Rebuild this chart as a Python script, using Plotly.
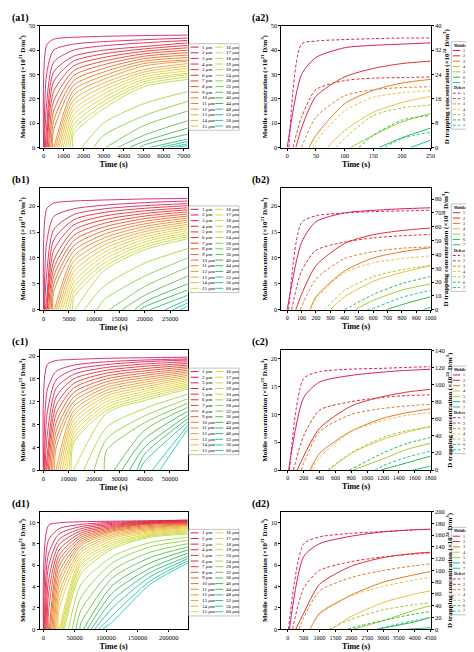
import plotly.graph_objects as go

W, H = 474, 652
FONT = "Liberation Serif"

# ---------------- data: left panels (mobile concentration for 30 depths) ----------------
depths = [1,2,3,4,5,6,7,8,9,10,11,12,13,14,15,16,17,18,19,20,24,28,32,36,40,44,48,52,56,60]
depth_labels = [f"{d} μm" for d in depths]

a1_grid = [150, 500, 1500, 3000, 5000, 7200]
a1_onset = [0,15,40,80,130,180,240,300,370,440,520,600,690,780,880,980,1090,1200,1320,1450,1900,2500,3100,3700,4300,4800,5300,5800,6200,6600]
a1_vals = [
 [42,44.5,45.3,45.7,46,46.2],[30,40,42.5,43.5,44.3,45],[18,35,40,41.8,43,44],[8,31,37.5,40,41.5,43],
 [2,27,35.5,38.5,40.5,42],[0,23,33.5,37,39.5,41],[0,19,31.5,35.5,38.5,40],[0,15,29.5,34,37.5,39],
 [0,11,27.5,32.5,36.5,38],[0,7,25.5,31,35.5,37],[0,4,23.5,29.5,34.5,36],[0,1.5,21.5,28,33.5,35.5],
 [0,0,19.5,26.5,32,34.5],[0,0,17.5,25,31,33.5],[0,0,15.5,23.5,30,32.5],[0,0,13.5,22,29,31.5],
 [0,0,11.5,20.5,28,30.5],[0,0,9.5,19,27,30],[0,0,7.5,17.5,26,29],[0,0,5.5,16,25,28],
 [0,0,1,10,18,23],[0,0,0,5,13,19],[0,0,0,2,9,15],[0,0,0,0.5,5,11],[0,0,0,0,2.5,8],
 [0,0,0,0,1,5.5],[0,0,0,0,0.3,3.5],[0,0,0,0,0,2.5],[0,0,0,0,0,1.5],[0,0,0,0,0,0.8]]

b1_grid = [600, 2000, 6000, 12000, 20000, 28500]
b1_onset = [0,60,160,320,520,720,950,1200,1500,1800,2150,2500,2900,3300,3750,4200,4700,5200,5700,6200,8000,10500,13000,15500,18000,19000,21000,24000,25500,27000]
b1_vals = [
 [19.5,20.6,21,21.2,21.4,21.5],[13,18,19.5,20.2,20.7,21],[7,15.5,18.4,19.5,20.1,20.5],[2,13.5,17.4,18.8,19.6,20.1],
 [0.3,11.5,16.4,18.1,19.1,19.7],[0,9.5,15.4,17.4,18.6,19.3],[0,8,14.4,16.7,18.1,18.9],[0,6.5,13.4,16,17.6,18.5],
 [0,5,12.4,15.3,17.1,18.1],[0,3.5,11.4,14.6,16.6,17.7],[0,2.2,10.4,13.9,16.1,17.3],[0,1.2,9.4,13.2,15.6,16.9],
 [0,0.3,8.4,12.5,15.1,16.5],[0,0,7.4,11.8,14.6,16.1],[0,0,6.4,11.1,14.1,15.7],[0,0,5.4,10.4,13.6,15.3],
 [0,0,4.4,9.7,13.1,14.9],[0,0,3.4,9,12.6,14.5],[0,0,2.4,8.3,12.1,14.1],[0,0,1.5,7.6,11.6,13.7],
 [0,0,0,4.6,9,11.8],[0,0,0,2,6.5,10],[0,0,0,0.5,4.5,8.2],[0,0,0,0,2.8,6.5],[0,0,0,0,1.5,5],
 [0,0,0,0,0.6,3.8],[0,0,0,0,0,2.8],[0,0,0,0,0,2],[0,0,0,0,0,1.3],[0,0,0,0,0,0.7]]

c1_grid = [1500, 5000, 12000, 25000, 40000, 57000]
c1_onset = [0,100,300,600,1000,1400,1900,2400,3000,3600,4300,5000,5800,6600,7500,8400,9300,10200,11000,12000,16000,20000,24000,28000,31000,34000,37000,38000,43000,46000]
c1_vals = [
 [18.5,19.2,19.4,19.6,19.7,19.8],[14,17.3,18.4,19,19.3,19.5],[10,15.8,17.6,18.5,19,19.3],[6,14.3,16.8,18,18.6,19],
 [2.5,12.8,16,17.5,18.2,18.7],[0.5,11.3,15.2,17,17.8,18.4],[0,9.8,14.4,16.5,17.4,18.1],[0,8.3,13.6,16,17,17.8],
 [0,6.8,12.8,15.5,16.6,17.5],[0,5.3,12,15,16.2,17.2],[0,3.8,11.2,14.5,15.8,16.9],[0,2.5,10.4,14,15.4,16.6],
 [0,1.2,9.6,13.5,15,16.3],[0,0,8.8,13,14.6,16],[0,0,8,12.5,14.2,15.7],[0,0,7.2,12,13.8,15.4],
 [0,0,6.4,11.5,13.4,15.1],[0,0,5.6,11,13,14.8],[0,0,4.8,10.5,12.6,14.5],[0,0,4,10,12.2,14.2],
 [0,0,1.5,7.5,10.8,13.3],[0,0,0,5.5,9.5,12.5],[0,0,0,3.5,8.3,11.7],[0,0,0,1.5,7,11],[0,0,0,0,5.5,10.3],
 [0,0,0,0,4,9.6],[0,0,0,0,2.8,9],[0,0,0,0,1.5,8.4],[0,0,0,0,0,7.8],[0,0,0,0,0,7.2]]

d1_grid = [8000, 25000, 60000, 110000, 170000, 230000]
d1_onset = [0,500,1500,2800,4300,6000,7800,9600,11500,13500,15500,17500,19500,21500,23500,25500,27500,29500,31500,33500,40000,46000,52000,58000,64000,70000,76000,82000,88000,94000]
d1_vals = [
 [9.7,9.95,10.05,10.1,10.15,10.2],[8.3,9.4,9.8,10,10.1,10.2],[7,8.9,9.6,9.9,10.05,10.15],[5.8,8.4,9.4,9.8,10,10.1],
 [4.5,7.9,9.2,9.7,9.95,10.05],[3.2,7.4,9,9.6,9.9,10],[1.5,6.9,8.8,9.5,9.85,9.95],[0,6.4,8.6,9.4,9.8,9.9],
 [0,5.9,8.4,9.3,9.7,9.85],[0,5.3,8.2,9.2,9.6,9.8],[0,4.7,8,9.1,9.5,9.75],[0,4.1,7.8,8.95,9.4,9.7],
 [0,3.4,7.5,8.8,9.3,9.6],[0,2.7,7.2,8.65,9.2,9.5],[0,1.8,6.9,8.5,9.1,9.4],[0,0,6.6,8.3,9,9.3],
 [0,0,6.3,8.1,8.9,9.2],[0,0,6,7.9,8.8,9.1],[0,0,5.6,7.7,8.7,9],[0,0,5.2,7.5,8.6,8.9],
 [0,0,4.2,6.8,8.1,8.6],[0,0,3,6.2,7.7,8.3],[0,0,1.8,5.5,7.2,8],[0,0,0.6,4.8,6.7,7.7],[0,0,0,4.1,6.2,7.4],
 [0,0,0,3.4,5.7,7.1],[0,0,0,2.7,5.3,6.8],[0,0,0,2,4.9,6.6],[0,0,0,1.3,4.5,6.4],[0,0,0,0.7,4.2,6.2]]

# ---------------- data: right panels (mobile solid, defect dashed; 1-7 μm) ----------------
r_labels = [f"{d} μm" for d in range(1, 8)]

a2_grid = [25, 50, 100, 150, 200, 250]
a2_m_onset = [0,15,38,70,110,160,215]
a2_m_vals = [[30,37,41,42,42.5,43],[8,21,29,32.5,34.5,35.5],[0,5,18,23.5,26.5,28],[0,0,7,14.5,18.5,21],
             [0,0,0,5,10.5,14],[0,0,0,0,4,8],[0,0,0,0,0,3]]
a2_d_onset = [3,10,25,45,85,125,170]
a2_d_vals = [[34,35,35.5,35.8,36,36],[10,19,22,22.8,23,23.2],[0,10,17,19,19.7,20],[0,2,12,16.5,18,18.7],
             [0,0,3,10.5,13,14],[0,0,0,4,9,10.5],[0,0,0,0,3,5]]

b2_grid = [100, 200, 400, 600, 800, 1000]
b2_m_onset = [0,60,160,300,470,690,950]
b2_m_vals = [[13,17,18.7,19.2,19.5,19.7],[3,8.5,12.8,14.5,15.3,15.8],[0,2.5,7.5,10,11.2,12],[0,0,2.5,5.5,7.2,8.5],
             [0,0,0,1.8,3.8,5],[0,0,0,0,1,2.5],[0,0,0,0,0,0.5]]
b2_d_onset = [10,30,90,160,260,400,560]
b2_d_vals = [[63,68,70,71,71.5,72],[28,43,49,52,53.5,54.5],[0,22,37,42,44.5,45.5],[0,8,27,34,37,39],
             [0,0,14,24,29,32],[0,0,0,11,19,24],[0,0,0,1,9,14]]

c2_grid = [200, 400, 800, 1200, 1500, 1800]
c2_m_onset = [10,120,280,520,820,1180,1580]
c2_m_vals = [[13,15.8,17,17.6,17.9,18.1],[2.5,7.5,11.5,13.2,14,14.5],[0,3,7,9.3,10.3,11],[0,0,3,5.5,6.8,7.8],
             [0,0,0,2,3.7,4.8],[0,0,0,0,1.3,2.5],[0,0,0,0,0,0.7]]
c2_d_onset = [20,70,170,300,500,780,1100]
c2_d_vals = [[107,115,118,119,120,121],[40,70,80,85,87,88],[8,45,65,72,75,77],[0,15,45,58,64,67],
             [0,0,20,38,46,51],[0,0,1,20,31,38],[0,0,0,5,15,22]]

d2_grid = [500, 1000, 2000, 3000, 4000, 4500]
d2_m_onset = [50,250,700,1350,2050,2800,3700]
d2_m_vals = [[6.8,8,8.7,9.1,9.3,9.35],[1.5,4.2,5.9,6.7,7.1,7.2],[0,1.5,3.2,4.4,5.1,5.4],[0,0,1.2,2.5,3.3,3.6],
             [0,0,0,0.8,1.8,2.2],[0,0,0,0,0.7,1.1],[0,0,0,0,0,0.15]]
d2_d_onset = [20,150,350,700,1300,1900,2800]
d2_d_vals = [[145,157,163,166,169,170],[70,100,115,123,128,130],[20,65,88,100,108,111],[0,25,57,73,84,88],
             [0,0,17,33,42,45],[0,0,2,15,26,30],[0,0,0,3,15,20]]

# ---------------- styles ----------------
def lerp_hex(c1, c2, t):
    a = [int(c1[i:i+2], 16) for i in (1, 3, 5)]
    b = [int(c2[i:i+2], 16) for i in (1, 3, 5)]
    return "#" + "".join(f"{round(a[i]+(b[i]-a[i])*t):02x}" for i in range(3))

anchors = ["#d81b6a", "#e0302e", "#e8842a", "#ecd040", "#b8dc40", "#3cb84a", "#20c8c0"]
n = len(depths)
left_colors = []
for i in range(n):
    p = i / (n - 1) * (len(anchors) - 1)
    k = min(int(p), len(anchors) - 2)
    left_colors.append(lerp_hex(anchors[k], anchors[k+1], p - k))
right_colors = ["#d81b6a", "#e0302e", "#e07a2a", "#e8c040", "#9ccc3a", "#2cb84a", "#20c0a8"]

def pts(onset, grid, vals):
    xs, ys = [onset], [0]
    for g, v in zip(grid, vals):
        if g > onset and v > 0:
            xs.append(g); ys.append(v)
    return xs, ys

fig = go.Figure()
def px(x): return x / W
def py(y): return 1 - y / H

left_rows = [(14, 137), (178, 301), (342, 463), (505, 624)]
right_rows = left_rows
LX = (32, 182)
RX = (277, 428)

left_data = [(a1_grid, a1_onset, a1_vals), (b1_grid, b1_onset, b1_vals),
             (c1_grid, c1_onset, c1_vals), (d1_grid, d1_onset, d1_vals)]
right_data = [(a2_grid, a2_m_onset, a2_m_vals, a2_d_onset, a2_d_vals),
              (b2_grid, b2_m_onset, b2_m_vals, b2_d_onset, b2_d_vals),
              (c2_grid, c2_m_onset, c2_m_vals, c2_d_onset, c2_d_vals),
              (d2_grid, d2_m_onset, d2_m_vals, d2_d_onset, d2_d_vals)]

left_x = [(-200, 7200, 1000), (-800, 28500, 5000), (-1500, 57000, 10000), (-6000, 230000, 50000)]
left_y = [(0, 50, 10), (0, 23.5, 5), (0, 21, 4), (0, 11, 2)]
right_x = [(-10, 250, 50), (-40, 1000, 100), (-80, 1800, 200), (-200, 4500, 500)]
right_y = [(0, 50, 10), (0, 23.5, 5), (0, 21.5, 5), (0, 11, 2)]
right_y2 = [(0, 40, 8), (0, 88, 10), (0, 140, 20), (0, 200, 20)]
panel_l = ["(a1)", "(b1)", "(c1)", "(d1)"]
panel_r = ["(a2)", "(b2)", "(c2)", "(d2)"]

tickfont = dict(family=FONT, size=6.5, color="black")
titlefont = dict(family=FONT, size=7, color="black")
xtitlefont = dict(family=FONT, size=8, color="black")
ytitle = "<b>Mobile concentration (×10<sup>21</sup> D/m<sup>3</sup>)</b>"
y2title = "<b>D trapping concentration (×10<sup>24</sup> D/m<sup>3</sup>)</b>"

def axstyle(rng, dt, **kw):
    d = dict(range=[rng[0], rng[1]], dtick=dt, tick0=0, showgrid=False, zeroline=False,
             showline=True, linecolor="black", linewidth=1, ticks="outside", ticklen=2,
             tickcolor="black", tickfont=tickfont, tickformat="d", tickangle=0)
    d.update(kw)
    return d

layout = {}
shapes, annots = [], []
DASH = "3px,2px"

for r in range(4):
    top, bot = left_rows[r]
    xi, yi = r + 1, r + 1
    grid, onset, vals = left_data[r]
    for i in range(n):
        xs, ys = pts(onset[i], grid, vals[i])
        fig.add_trace(go.Scatter(x=xs, y=ys, mode="lines", xaxis=f"x{xi}", yaxis=f"y{yi}",
                                 line=dict(color=left_colors[i], width=0.9, shape="spline", smoothing=0.7),
                                 showlegend=False, hoverinfo="skip"))
    xr = left_x[r]; yr = left_y[r]
    layout[f"xaxis{xi}"] = axstyle(xr[:2], xr[2], domain=[px(LX[0]), px(LX[1])], anchor=f"y{yi}", mirror=True,
                                   title=dict(text="<b>Time (s)</b>", font=xtitlefont, standoff=3))
    layout[f"yaxis{yi}"] = axstyle(yr[:2], yr[2], domain=[py(bot), py(top)], anchor=f"x{xi}", mirror=True,
                                   title=dict(text=ytitle, font=titlefont, standoff=2))
    annots.append(dict(text=f"<b>{panel_l[r]}</b>", x=px(2), y=py(top - 8), xref="paper", yref="paper",
                       xanchor="left", yanchor="middle", showarrow=False, font=dict(family=FONT, size=10)))
    lx0, lx1 = 183, 234
    ly0 = top + 18
    rh = 5.7
    ly1 = ly0 + 15 * rh + 2
    shapes.append(dict(type="rect", xref="paper", yref="paper", x0=px(lx0), x1=px(lx1), y0=py(ly1), y1=py(ly0),
                       line=dict(color="#888", width=0.5), fillcolor="white"))
    for i in range(n):
        col, row = divmod(i, 15)
        cx = lx0 + 2 + col * 25
        cy = ly0 + 3.5 + row * rh
        shapes.append(dict(type="line", xref="paper", yref="paper", x0=px(cx), x1=px(cx + 8), y0=py(cy), y1=py(cy),
                           line=dict(color=left_colors[i], width=1)))
        annots.append(dict(text=depth_labels[i], x=px(cx + 9), y=py(cy), xref="paper", yref="paper",
                           xanchor="left", yanchor="middle", showarrow=False, font=dict(family=FONT, size=5)))

for r in range(4):
    top, bot = right_rows[r]
    xi, yi, y2i = r + 5, r + 5, r + 9
    grid, mon, mv, don, dv = right_data[r]
    for i in range(7):
        xs, ys = pts(mon[i], grid, mv[i])
        fig.add_trace(go.Scatter(x=xs, y=ys, mode="lines", xaxis=f"x{xi}", yaxis=f"y{yi}",
                                 line=dict(color=right_colors[i], width=1, shape="spline", smoothing=0.7),
                                 showlegend=False, hoverinfo="skip"))
    for i in range(7):
        xs, ys = pts(don[i], grid, dv[i])
        fig.add_trace(go.Scatter(x=xs, y=ys, mode="lines", xaxis=f"x{xi}", yaxis=f"y{y2i}",
                                 line=dict(color=right_colors[i], width=1, dash=DASH, shape="spline", smoothing=0.7),
                                 showlegend=False, hoverinfo="skip"))
    xr = right_x[r]; yr = right_y[r]; y2r = right_y2[r]
    layout[f"xaxis{xi}"] = axstyle(xr[:2], xr[2], domain=[px(RX[0]), px(RX[1])], anchor=f"y{yi}", mirror=True,
                                   title=dict(text="<b>Time (s)</b>", font=xtitlefont, standoff=3),
                                   tickfont=dict(family=FONT, size=6, color="black"))
    layout[f"yaxis{yi}"] = axstyle(yr[:2], yr[2], domain=[py(bot), py(top)], anchor=f"x{xi}",
                                   title=dict(text=ytitle, font=titlefont, standoff=2))
    layout[f"yaxis{y2i}"] = axstyle(y2r[:2], y2r[2], overlaying=f"y{yi}", side="right", anchor=f"x{xi}",
                                    title=dict(text=y2title, font=titlefont, standoff=2))
    annots.append(dict(text=f"<b>{panel_r[r]}</b>", x=px(245), y=py(top - 8), xref="paper", yref="paper",
                       xanchor="left", yanchor="middle", showarrow=False, font=dict(family=FONT, size=10)))
    lx0, lx1 = 449, 473
    ly0 = top + 16
    rh = 5.4
    ly1 = ly0 + 16 * rh + 2
    shapes.append(dict(type="rect", xref="paper", yref="paper", x0=px(lx0), x1=px(lx1), y0=py(ly1), y1=py(ly0),
                       line=dict(color="#888", width=0.5), fillcolor="white"))
    for gi, (head, dash) in enumerate([("Mobile", "solid"), ("Defect", DASH)]):
        hy = ly0 + 3.5 + gi * 8 * rh
        annots.append(dict(text="<b>" + head + "</b>", x=px(lx0 + 1), y=py(hy), xref="paper", yref="paper",
                           xanchor="left", yanchor="middle", showarrow=False, font=dict(family=FONT, size=4)))
        for i in range(7):
            cy = hy + (i + 1) * rh
            shapes.append(dict(type="line", xref="paper", yref="paper", x0=px(lx0 + 1.5), x1=px(lx0 + 9),
                               y0=py(cy), y1=py(cy), line=dict(color=right_colors[i], width=1, dash=dash)))
            annots.append(dict(text=r_labels[i], x=px(lx0 + 10), y=py(cy), xref="paper", yref="paper",
                               xanchor="left", yanchor="middle", showarrow=False, font=dict(family=FONT, size=4)))

fig.update_layout(width=W, height=H, margin=dict(l=0, r=0, t=0, b=0), plot_bgcolor="white",
                  paper_bgcolor="white", font=dict(family=FONT, color="black"), shapes=shapes,
                  annotations=annots, **layout)
fig.write_html("out.html", config={"displayModeBar": False})
